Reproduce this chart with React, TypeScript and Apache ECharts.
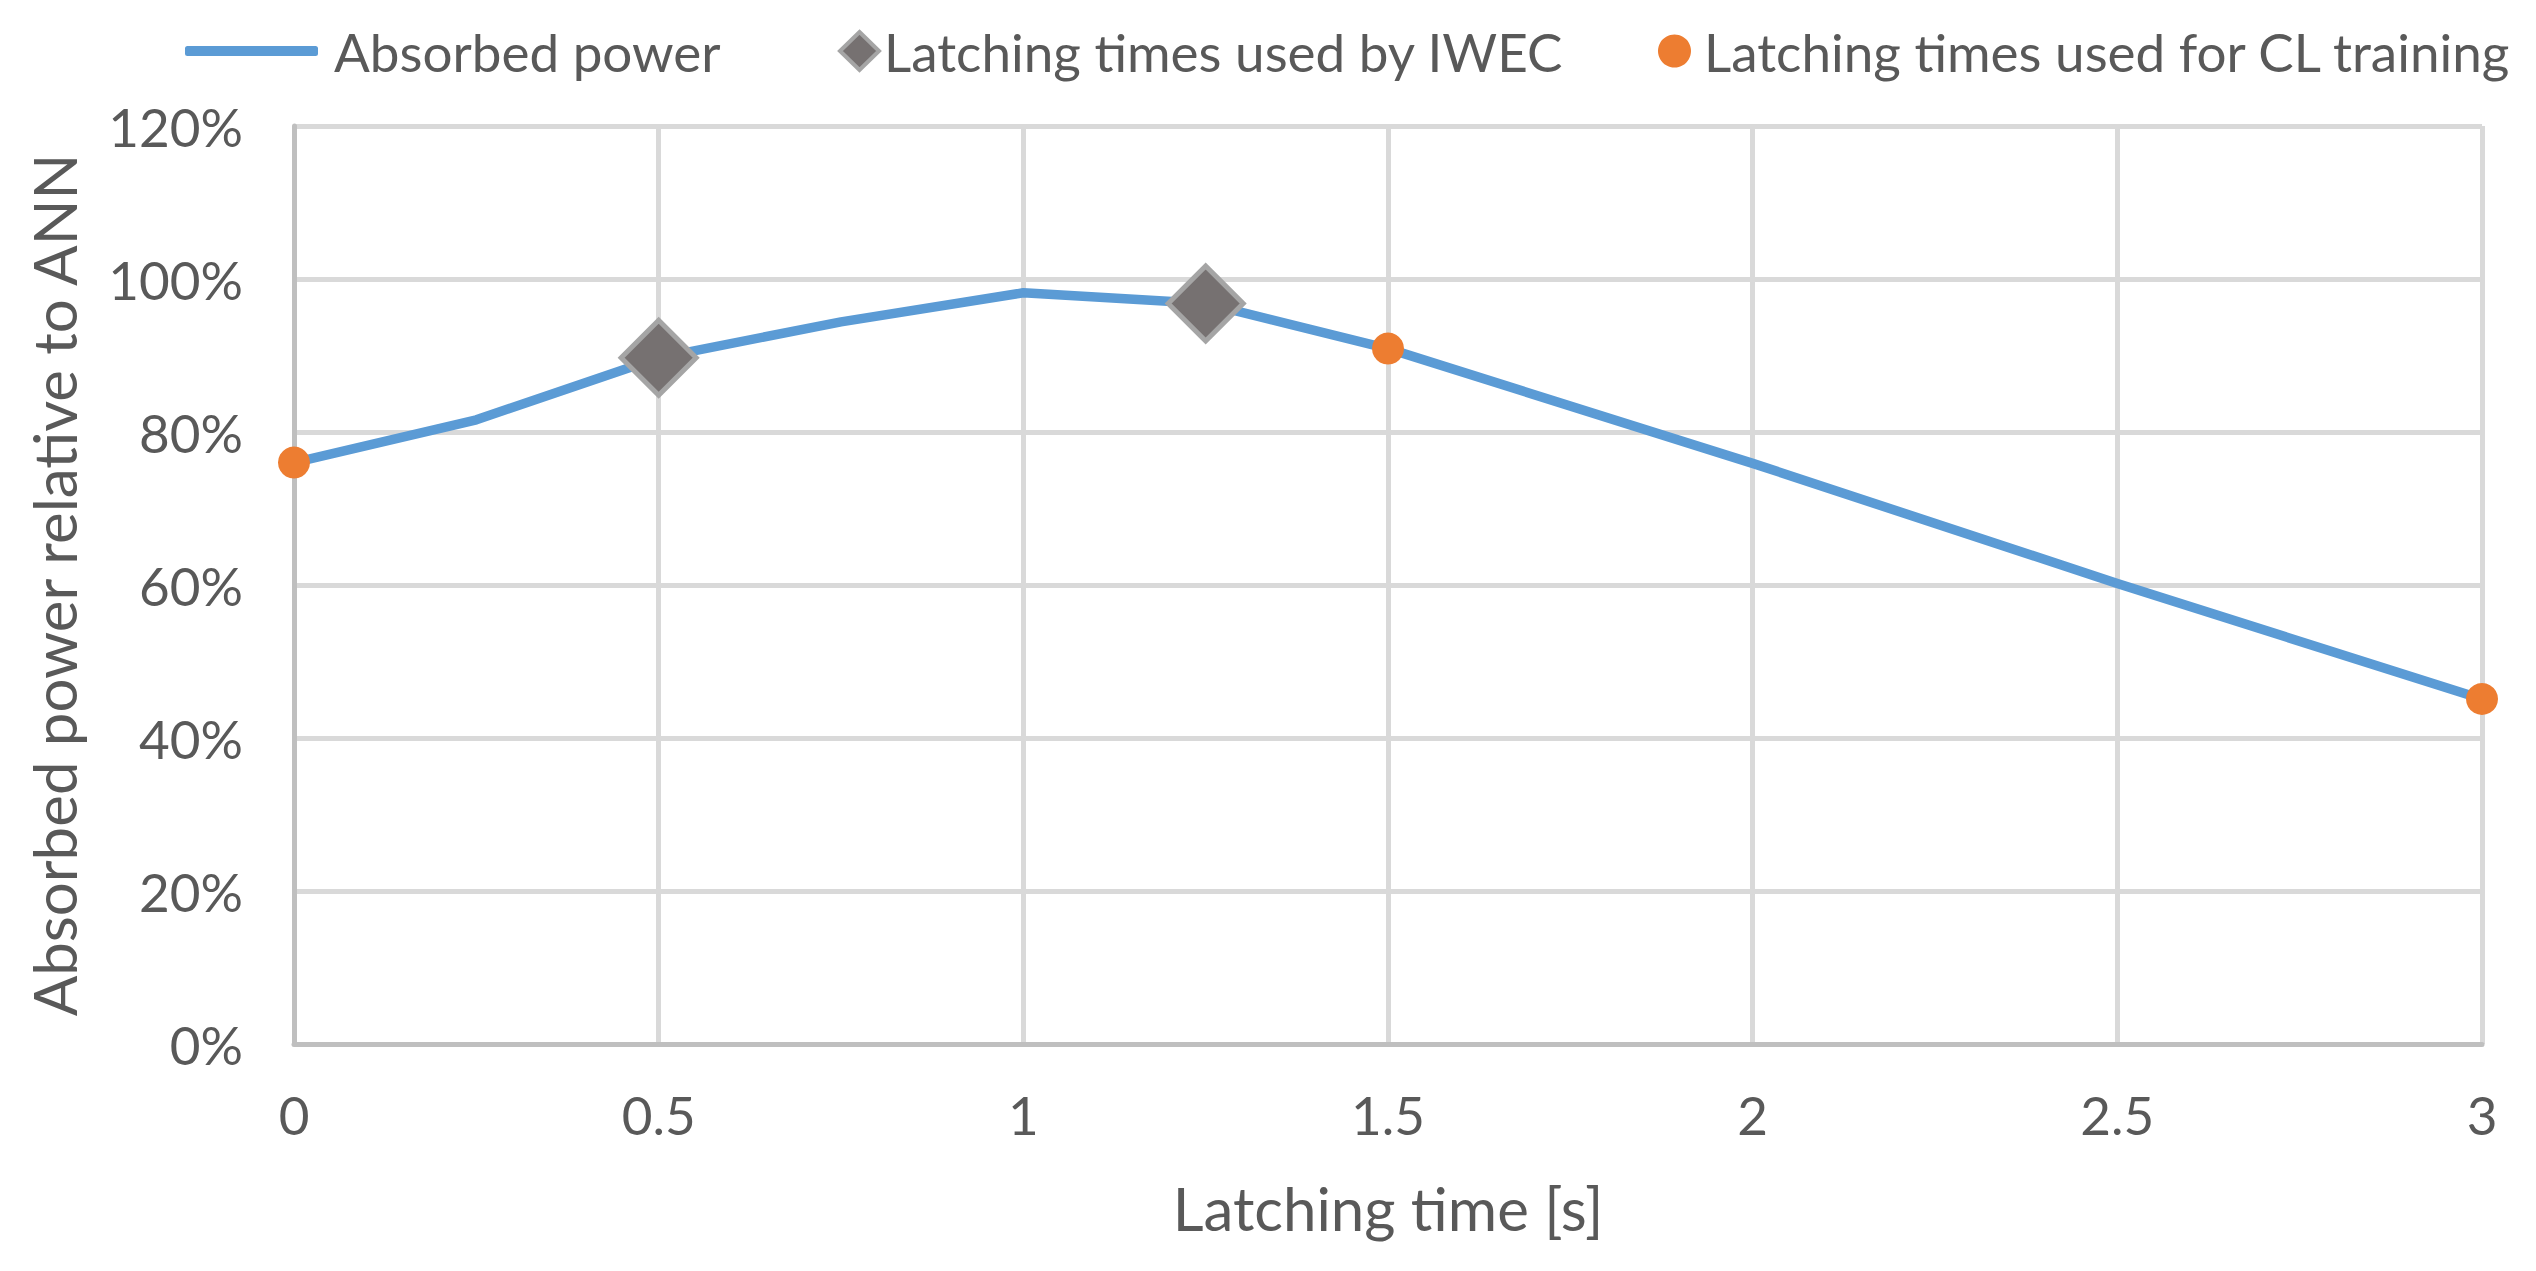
import React, { useEffect, useRef } from "react";
import * as echarts from "echarts";

// ---- data ----
const latchTimes = [0, 0.25, 0.5, 0.75, 1, 1.25, 1.5, 2, 2.5, 3];
const absorbedPower = [0.76, 0.816, 0.897, 0.944, 0.982, 0.968, 0.909, 0.759, 0.602, 0.451];

const iwecTimes = [0.5, 1.25];
const iwecPower = [0.897, 0.968];

const clTimes = [0, 1.5, 3];
const clPower = [0.76, 0.909, 0.451];

const seriesNames = [
  "Absorbed power",
  "Latching times used by IWEC",
  "Latching times used for CL training",
];
const xAxisTitle = "Latching time [s]";
const yAxisTitle = "Absorbed power relative to ANN";

const FONT = "Lato, 'Open Sans', sans-serif";
const TXT = "#595959";

export default function App() {
  const ref = useRef<HTMLDivElement>(null);

  useEffect(() => {
    if (!ref.current) return;
    const chart = echarts.init(ref.current, null, { renderer: "svg" });

    const pairs = (xs: number[], ys: number[]) => xs.map((x, i) => [x, ys[i]]);

    const legendText = (padLeft: number) => ({
      fontFamily: FONT,
      fontSize: 53,
      color: TXT,
      lineHeight: 58,
      padding: [0, 0, 0, padLeft],
    });

    chart.setOption({
      animation: false,
      backgroundColor: "#ffffff",
      textStyle: { fontFamily: FONT, color: TXT },
      legend: [
        {
          data: [{ name: seriesNames[0], icon: "roundRect" }],
          left: 185,
          top: 22,
          padding: 0,
          itemWidth: 133,
          itemHeight: 10,
          textStyle: legendText(11),
        },
        {
          data: [
            {
              name: seriesNames[1],
              icon: "diamond",
              itemStyle: { color: "#767171", borderColor: "#a5a5a5", borderWidth: 4, opacity: 1 },
            },
          ],
          left: 838,
          top: 22,
          padding: 0,
          itemWidth: 39,
          itemHeight: 38,
          textStyle: legendText(0),
        },
        {
          data: [{ name: seriesNames[2], icon: "circle", itemStyle: { opacity: 1 } }],
          left: 1658,
          top: 22,
          padding: 0,
          itemWidth: 33,
          itemHeight: 33,
          textStyle: legendText(8),
        },
      ],
      grid: { left: 294, top: 126, width: 2188, height: 918, containLabel: false },
      xAxis: {
        type: "value",
        min: 0,
        max: 3,
        interval: 0.5,
        name: xAxisTitle,
        nameLocation: "middle",
        nameGap: 134,
        nameTextStyle: { fontFamily: FONT, fontSize: 60, color: TXT },
        axisLine: { show: true, lineStyle: { color: "#bfbfbf", width: 5 } },
        axisTick: { show: false },
        axisLabel: {
          fontFamily: FONT,
          fontSize: 53,
          color: TXT,
          margin: 44,
          formatter: (v: number) => String(v),
        },
        splitLine: { show: true, lineStyle: { color: "#d9d9d9", width: 5 } },
      },
      yAxis: {
        type: "value",
        min: 0,
        max: 1.2,
        interval: 0.2,
        name: yAxisTitle,
        nameLocation: "middle",
        nameGap: 210,
        nameTextStyle: { fontFamily: FONT, fontSize: 60, color: TXT },
        axisLine: { show: true, lineStyle: { color: "#bfbfbf", width: 5 } },
        axisTick: { show: false },
        axisLabel: {
          fontFamily: FONT,
          fontSize: 53,
          color: TXT,
          margin: 51,
          formatter: (v: number) => Math.round(v * 100) + "%",
        },
        splitLine: { show: true, lineStyle: { color: "#d9d9d9", width: 5 } },
      },
      series: [
        {
          name: seriesNames[0],
          type: "line",
          data: pairs(latchTimes, absorbedPower),
          color: "#5b9bd5",
          lineStyle: { color: "#5b9bd5", width: 9.5, cap: "round", join: "round" },
          symbol: "none",
          clip: false,
          z: 2,
        },
        {
          name: seriesNames[1],
          type: "scatter",
          data: pairs(iwecTimes, iwecPower),
          symbol: "diamond",
          symbolSize: 75,
          itemStyle: { color: "#767171", borderColor: "#a5a5a5", borderWidth: 5, opacity: 1 },
          clip: false,
          z: 3,
        },
        {
          name: seriesNames[2],
          type: "scatter",
          data: pairs(clTimes, clPower),
          symbol: "circle",
          symbolSize: 32,
          itemStyle: { color: "#ed7d31", opacity: 1 },
          clip: false,
          z: 4,
        },
      ],
    });

    return () => chart.dispose();
  }, []);

  return (
    <div
      ref={ref}
      style={{ position: "fixed", left: 0, top: 0, width: 2536, height: 1271, background: "#fff" }}
    />
  );
}
